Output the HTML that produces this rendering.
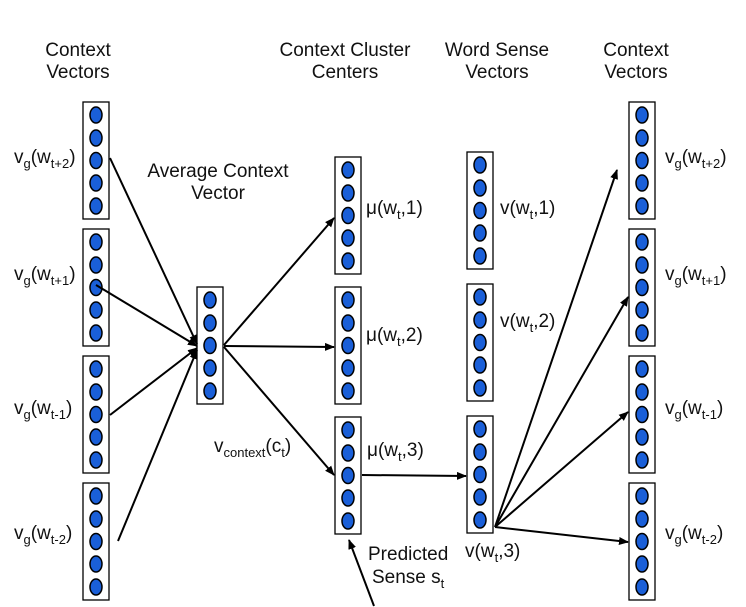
<!DOCTYPE html>
<html><head><meta charset="utf-8"><style>
html,body{margin:0;padding:0;background:#fff;}
svg{display:block;}
text{font-family:"Liberation Sans",Arial,sans-serif;font-size:19px;fill:#111;}
.s{font-size:13px;}
</style></head><body>
<svg width="746" height="607" viewBox="0 0 746 607" xmlns="http://www.w3.org/2000/svg">
<defs>
<g id="v">
<rect x="0" y="0" width="26" height="117" fill="#fff" stroke="#000" stroke-width="1.3"/>
<g fill="#1a5fd8" stroke="#000" stroke-width="1.5">
<ellipse cx="13" cy="13" rx="6" ry="8"/>
<ellipse cx="13" cy="36" rx="6" ry="8"/>
<ellipse cx="13" cy="58.5" rx="6" ry="8"/>
<ellipse cx="13" cy="81" rx="6" ry="8"/>
<ellipse cx="13" cy="104" rx="6" ry="8"/>
</g>
</g>
<marker id="a" markerWidth="10" markerHeight="8" refX="9" refY="4" orient="auto" markerUnits="userSpaceOnUse">
<path d="M0,0 L10,4 L0,8 z" fill="#000"/>
</marker>
</defs>

<use href="#v" x="83" y="102"/>
<use href="#v" x="83" y="229"/>
<use href="#v" x="83" y="356"/>
<use href="#v" x="83" y="483"/>
<use href="#v" x="197" y="287"/>
<use href="#v" x="335" y="157"/>
<use href="#v" x="335" y="287"/>
<use href="#v" x="335" y="417"/>
<use href="#v" x="467" y="152"/>
<use href="#v" x="467" y="284"/>
<use href="#v" x="467" y="416"/>
<use href="#v" x="629" y="102"/>
<use href="#v" x="629" y="229"/>
<use href="#v" x="629" y="356"/>
<use href="#v" x="629" y="483"/>

<g stroke="#000" stroke-width="2" fill="none" marker-end="url(#a)">
<line x1="110" y1="158" x2="197" y2="344"/>
<line x1="96" y1="285" x2="197" y2="346"/>
<line x1="110" y1="415" x2="197" y2="348"/>
<line x1="118" y1="541" x2="197" y2="350"/>
<line x1="224" y1="345" x2="334" y2="218"/>
<line x1="224" y1="346" x2="334" y2="347"/>
<line x1="224" y1="347" x2="334" y2="475"/>
<line x1="362" y1="475" x2="466" y2="476"/>
<line x1="495" y1="527" x2="617" y2="170"/>
<line x1="495" y1="527" x2="628" y2="297"/>
<line x1="495" y1="527" x2="628" y2="412"/>
<line x1="495" y1="527" x2="628" y2="542"/>
<line x1="374" y1="606" x2="349" y2="540"/>
</g>

<text x="78" y="56" text-anchor="middle">Context</text>
<text x="78" y="78" text-anchor="middle">Vectors</text>
<text x="345" y="56" text-anchor="middle">Context Cluster</text>
<text x="345" y="78" text-anchor="middle">Centers</text>
<text x="497" y="56" text-anchor="middle">Word Sense</text>
<text x="497" y="78" text-anchor="middle">Vectors</text>
<text x="636" y="56" text-anchor="middle">Context</text>
<text x="636" y="78" text-anchor="middle">Vectors</text>
<text x="218" y="177" text-anchor="middle">Average Context</text>
<text x="218" y="199" text-anchor="middle">Vector</text>

<text x="14" y="163">v<tspan class="s" dy="5">g</tspan><tspan dy="-5">(w</tspan><tspan class="s" dy="5">t+2</tspan><tspan dy="-5">)</tspan></text>
<text x="14" y="280">v<tspan class="s" dy="5">g</tspan><tspan dy="-5">(w</tspan><tspan class="s" dy="5">t+1</tspan><tspan dy="-5">)</tspan></text>
<text x="14" y="414">v<tspan class="s" dy="5">g</tspan><tspan dy="-5">(w</tspan><tspan class="s" dy="5">t-1</tspan><tspan dy="-5">)</tspan></text>
<text x="14" y="539">v<tspan class="s" dy="5">g</tspan><tspan dy="-5">(w</tspan><tspan class="s" dy="5">t-2</tspan><tspan dy="-5">)</tspan></text>

<text x="665" y="163">v<tspan class="s" dy="5">g</tspan><tspan dy="-5">(w</tspan><tspan class="s" dy="5">t+2</tspan><tspan dy="-5">)</tspan></text>
<text x="665" y="280">v<tspan class="s" dy="5">g</tspan><tspan dy="-5">(w</tspan><tspan class="s" dy="5">t+1</tspan><tspan dy="-5">)</tspan></text>
<text x="665" y="414">v<tspan class="s" dy="5">g</tspan><tspan dy="-5">(w</tspan><tspan class="s" dy="5">t-1</tspan><tspan dy="-5">)</tspan></text>
<text x="665" y="539">v<tspan class="s" dy="5">g</tspan><tspan dy="-5">(w</tspan><tspan class="s" dy="5">t-2</tspan><tspan dy="-5">)</tspan></text>

<text x="366" y="214">μ(w<tspan class="s" dy="5">t</tspan><tspan dy="-5">,1)</tspan></text>
<text x="366" y="341">μ(w<tspan class="s" dy="5">t</tspan><tspan dy="-5">,2)</tspan></text>
<text x="367" y="456">μ(w<tspan class="s" dy="5">t</tspan><tspan dy="-5">,3)</tspan></text>

<text x="500" y="214">v(w<tspan class="s" dy="5">t</tspan><tspan dy="-5">,1)</tspan></text>
<text x="500" y="327">v(w<tspan class="s" dy="5">t</tspan><tspan dy="-5">,2)</tspan></text>
<text x="465" y="557">v(w<tspan class="s" dy="5">t</tspan><tspan dy="-5">,3)</tspan></text>

<text x="214" y="452">v<tspan class="s" dy="5">context</tspan><tspan dy="-5">(c</tspan><tspan class="s" dy="5">t</tspan><tspan dy="-5">)</tspan></text>

<text x="368" y="560">Predicted</text>
<text x="372" y="583">Sense s<tspan class="s" dy="5">t</tspan></text>
</svg>
</body></html>
